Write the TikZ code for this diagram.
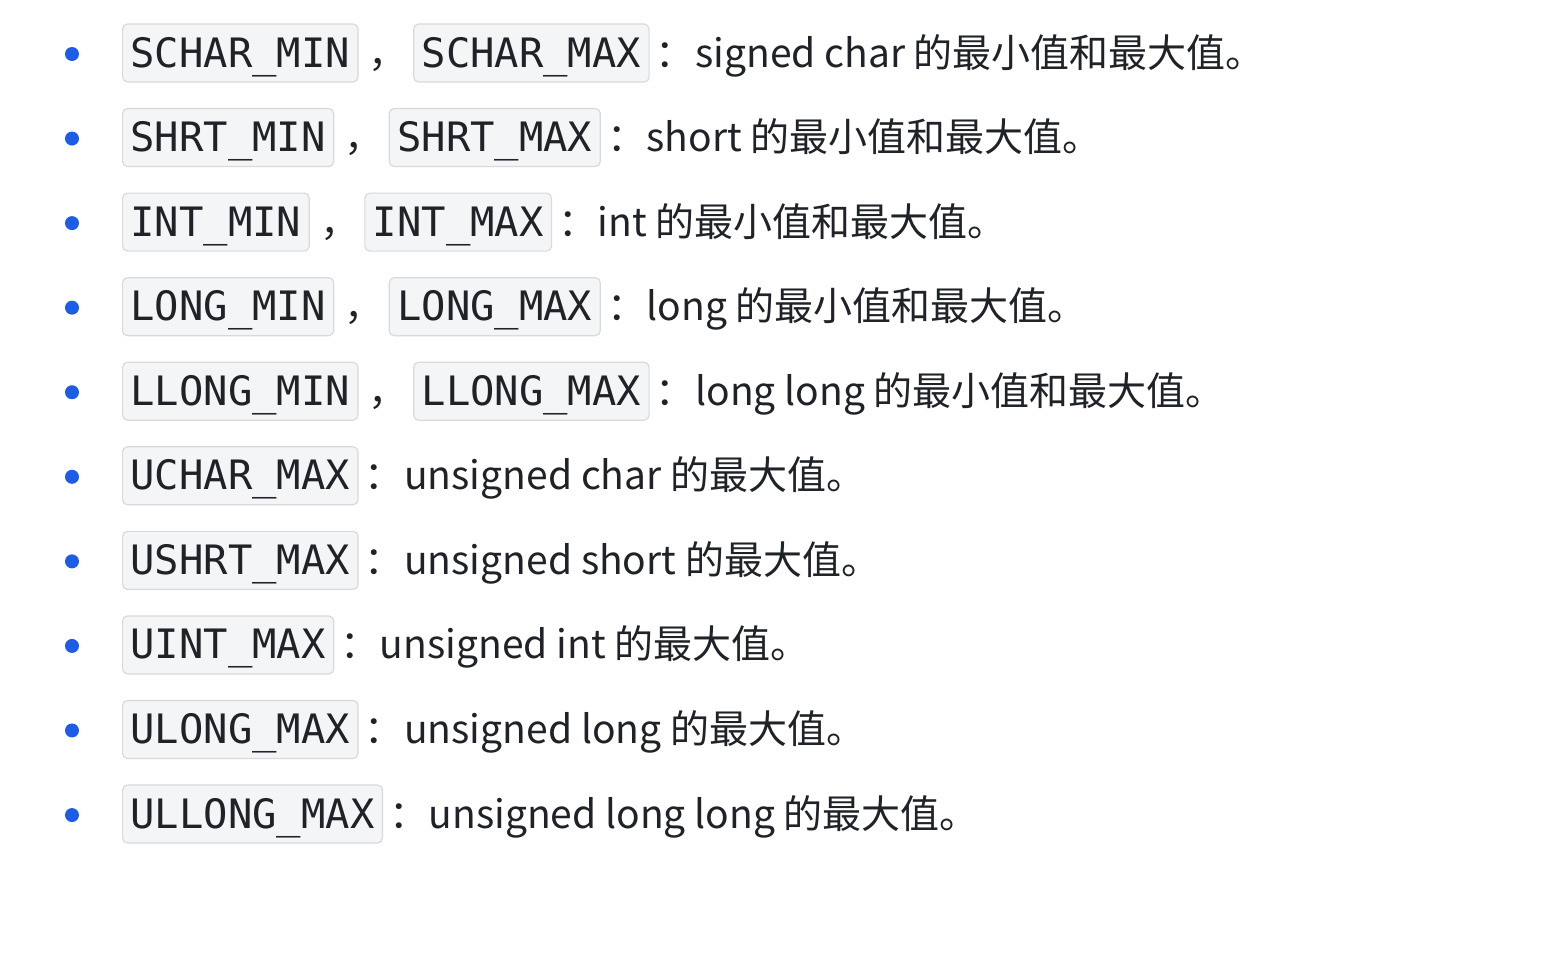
\documentclass[tikz,border=0pt]{standalone}
\usepackage{fontspec}
\setmainfont{Noto Sans CJK SC}
\setmonofont{DejaVu Sans Mono}
\definecolor{txt}{HTML}{1F2328}
\definecolor{bul}{HTML}{1D5CE6}
\definecolor{cbg}{HTML}{F4F5F6}
\definecolor{cbd}{HTML}{D8DADD}
\newcommand{\us}{\char`\_}
\tikzset{
 code/.style={draw=cbd,fill=cbg,rounded corners=5pt,line width=1.2pt,inner xsep=8pt,inner ysep=8pt,
   text height=35pt,text depth=7pt,font=\fontsize{40.5}{42}\selectfont\ttfamily,text=txt,anchor=base west},
 pl/.style={inner sep=0pt,font=\fontsize{39}{44}\selectfont,text=txt,anchor=base west},
 dot/.style={circle,fill=bul,inner sep=0pt,minimum size=14pt}
}
\newcommand{\two}[5]{% row, min, max, desc, name
 \node[dot] (b#5) at (72,{54+84.56*#1}) {};
 \node[code] (a#5) at (122,{67+84.56*#1}) {#2};
 \node[pl] (c#5) at ([xshift=10pt]a#5.base east) {，};
 \node[code] (d#5) at ([xshift=5pt]c#5.base east) {#3};
 \node[pl] (e#5) at ([xshift=6pt]d#5.base east) {：};
 \node[pl] (f#5) at ([xshift=0pt]e#5.base east) {#4};}
\newcommand{\one}[4]{%
 \node[dot] (b#4) at (72,{54+84.56*#1}) {};
 \node[code] (d#4) at (122,{67+84.56*#1}) {#2};
 \node[pl] (e#4) at ([xshift=6pt]d#4.base east) {：};
 \node[pl] (f#4) at ([xshift=0pt]e#4.base east) {#3};}
\begin{document}
\begin{tikzpicture}[x=1pt,y=-1pt]
\useasboundingbox[fill=white] (0,0) rectangle (1565,964);
\two{0}{SCHAR\us MIN}{SCHAR\us MAX}{signed char 的最小值和最大值。}{r0}
\two{1}{SHRT\us MIN}{SHRT\us MAX}{short 的最小值和最大值。}{r1}
\two{2}{INT\us MIN}{INT\us MAX}{int 的最小值和最大值。}{r2}
\two{3}{LONG\us MIN}{LONG\us MAX}{long 的最小值和最大值。}{r3}
\two{4}{LLONG\us MIN}{LLONG\us MAX}{long long 的最小值和最大值。}{r4}
\one{5}{UCHAR\us MAX}{unsigned char 的最大值。}{r5}
\one{6}{USHRT\us MAX}{unsigned short 的最大值。}{r6}
\one{7}{UINT\us MAX}{unsigned int 的最大值。}{r7}
\one{8}{ULONG\us MAX}{unsigned long 的最大值。}{r8}
\one{9}{ULLONG\us MAX}{unsigned long long 的最大值。}{r9}
\end{tikzpicture}
\end{document}
